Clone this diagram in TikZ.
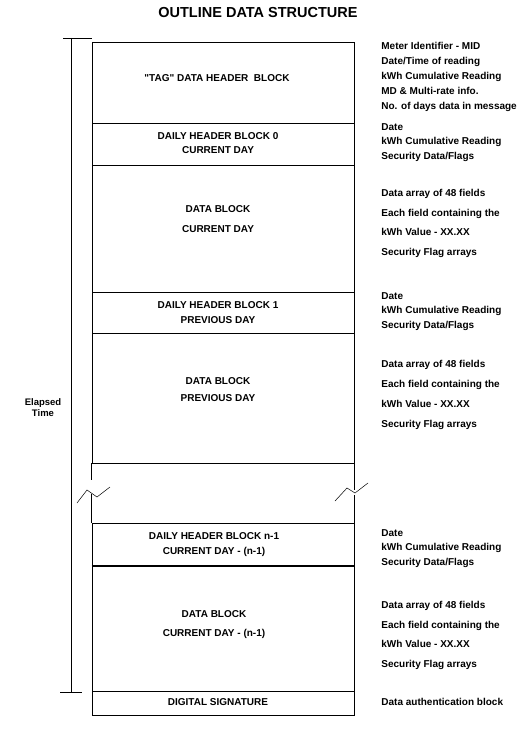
\documentclass[tikz,border=0pt]{standalone}
\usepackage{fontspec}
\setmainfont{Liberation Sans}[Ligatures=TeXOff]

\begin{document}
\begin{tikzpicture}[x=1pt,y=-1pt,line width=0.8pt,
  block/.style={draw,rectangle,minimum width=262pt,inner sep=0pt},
  caption/.style={inner sep=0pt,align=center,font=\fontsize{10}{#1}\selectfont\bfseries},
  caption/.default=15,
  note/.style={anchor=west,inner sep=0pt,align=left,font=\fontsize{10}{#1}\selectfont\bfseries},
  note/.default=14.5,
  brk/.style={line width=0.5pt}]
\useasboundingbox (0,0) rectangle (526,746);

\node[inner sep=0pt,font=\fontsize{14.5}{16}\selectfont\bfseries] at (258,12.5) (title) {OUTLINE DATA STRUCTURE};

\node[block,minimum height=81pt] at (223,82.5) (tag) {};
\node[block,minimum height=42pt] at (223,144) (dh0) {};
\node[block,minimum height=127pt] at (223,228.5) (db0) {};
\node[block,minimum height=41pt] at (223,312.5) (dh1) {};
\node[block,minimum height=130pt] at (223,398) (db1) {};
\node[block,minimum height=43pt] at (223,544.5) (dhn) {};
\node[block,minimum height=125pt] at (223,628.5) (dbn) {};
\node[block,minimum height=24pt] at (223,703) (sig) {};
\draw[line width=1.6pt] (dbn.north west) -- (dbn.north east);

\node[caption] at (217,78) (tagtext) {"TAG" DATA HEADER\ \ BLOCK};
\node[caption=14] at (218,143) (dh0text) {DAILY HEADER BLOCK 0\\CURRENT DAY};
\node[caption=20] at (218,219.5) (db0text) {DATA BLOCK\\CURRENT DAY};
\node[caption=15] at (218,312.5) (dh1text) {DAILY HEADER BLOCK 1\\PREVIOUS DAY};
\node[caption=17] at (218,389.5) (db1text) {DATA BLOCK\\PREVIOUS DAY};
\node[caption=15] at (214,544.5) (dhntext) {DAILY HEADER BLOCK n-1\\CURRENT DAY - (n-1)};
\node[caption=19] at (214,624.5) (dbntext) {DATA BLOCK\\CURRENT DAY - (n-1)};
\node[caption] at (218,702) (sigtext) {DIGITAL SIGNATURE};

\node[note=15] at (381,77) (tagnote) {Meter Identifier - MID\\Date/Time of reading\\kWh Cumulative Reading\\MD \& Multi-rate info.\\No. of days data in message};
\node[note] at (381,142.5) (dh0note) {Date\\kWh Cumulative Reading\\Security Data/Flags};
\node[note=19.7] at (381,223.5) (db0note) {Data array of 48 fields\\Each field containing the\\kWh Value - XX.XX\\Security Flag arrays};
\node[note] at (381,311.5) (dh1note) {Date\\kWh Cumulative Reading\\Security Data/Flags};
\node[note=20] at (381,395) (db1note) {Data array of 48 fields\\Each field containing the\\kWh Value - XX.XX\\Security Flag arrays};
\node[note] at (381,548.5) (dhnnote) {Date\\kWh Cumulative Reading\\Security Data/Flags};
\node[note=19.7] at (381,635.5) (dbnnote) {Data array of 48 fields\\Each field containing the\\kWh Value - XX.XX\\Security Flag arrays};
\node[note] at (381,702) (signote) {Data authentication block};

\draw (db1.south west) -- ++(0,17);
\draw (dhn.north west) -- ++(0,-29);
\draw (db1.south east) -- ++(0,27);
\draw (dhn.north east) -- ++(0,-28);
\draw[brk] (77,503) -- (87,490) -- (97,497) -- (110,487);
\draw[brk] (335,501) -- (347,488) -- (355,493) -- (368,483);

\coordinate (etop) at (71,38);
\coordinate (ebot) at (71,692);
\draw (etop) -- (ebot);
\draw (63,38) -- (92,38);
\draw (60,692) -- (82,692);
\node[inner sep=0pt,align=center,font=\fontsize{9.5}{11.5}\selectfont\bfseries] at (43,407.5) (elapsed) {Elapsed\\Time};
\end{tikzpicture}
\end{document}
